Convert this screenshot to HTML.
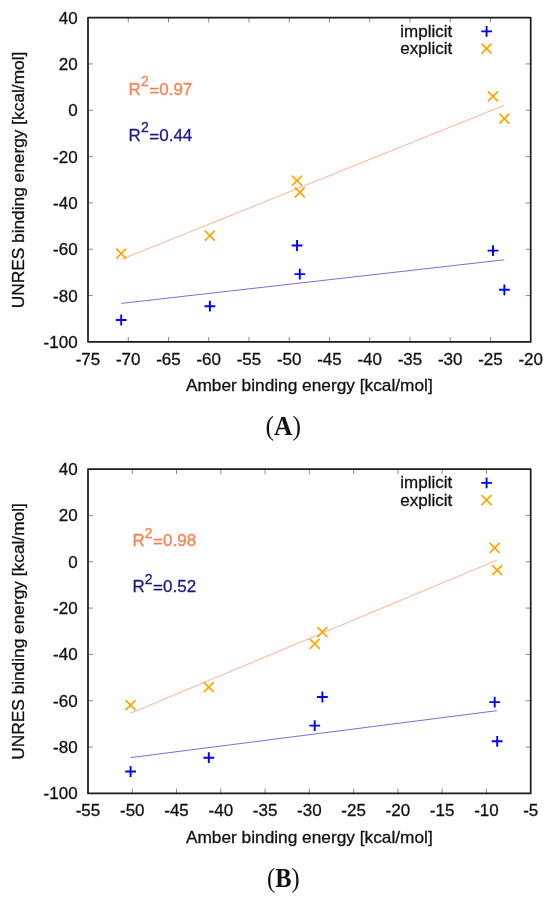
<!DOCTYPE html>
<html><head><meta charset="utf-8"><title>UNRES vs Amber binding energy</title>
<style>
html,body{margin:0;padding:0;background:#fff;}
body{width:550px;height:904px;overflow:hidden;}
svg{display:block;}
svg text{font-family:"Liberation Sans", Arial, Helvetica, sans-serif;font-size:17px;fill:#111;stroke:#111;stroke-width:0.3px;}
</style></head><body>
<svg width="550" height="904" viewBox="0 0 550 904">
<rect width="550" height="904" fill="#fff"/>
<path d="M128.25 341.9v-4.9M128.25 17.6v4.9M168.49 341.9v-4.9M168.49 17.6v4.9M208.74 341.9v-4.9M208.74 17.6v4.9M248.98 341.9v-4.9M248.98 17.6v4.9M289.23 341.9v-4.9M289.23 17.6v4.9M329.47 341.9v-4.9M329.47 17.6v4.9M369.72 341.9v-4.9M369.72 17.6v4.9M409.96 341.9v-4.9M409.96 17.6v4.9M450.21 341.9v-4.9M450.21 17.6v4.9M490.45 341.9v-4.9M490.45 17.6v4.9M88 63.93h4.9M530.7 63.93h-4.9M88 110.26h4.9M530.7 110.26h-4.9M88 156.59h4.9M530.7 156.59h-4.9M88 202.91h4.9M530.7 202.91h-4.9M88 249.24h4.9M530.7 249.24h-4.9M88 295.57h4.9M530.7 295.57h-4.9" stroke="#8a8a8a" stroke-width="1" fill="none"/>
<rect x="88" y="17.6" width="442.70000000000005" height="324.29999999999995" fill="none" stroke="#1a1a1a" stroke-linejoin="round" stroke-width="1.7"/>
<text x="77.6" y="23.60" text-anchor="end">40</text>
<text x="77.6" y="69.93" text-anchor="end">20</text>
<text x="77.6" y="116.26" text-anchor="end">0</text>
<text x="77.6" y="162.59" text-anchor="end">-20</text>
<text x="77.6" y="208.91" text-anchor="end">-40</text>
<text x="77.6" y="255.24" text-anchor="end">-60</text>
<text x="77.6" y="301.57" text-anchor="end">-80</text>
<text x="77.6" y="347.90" text-anchor="end">-100</text>
<text x="88.00" y="364.90" text-anchor="middle">-75</text>
<text x="128.25" y="364.90" text-anchor="middle">-70</text>
<text x="168.49" y="364.90" text-anchor="middle">-65</text>
<text x="208.74" y="364.90" text-anchor="middle">-60</text>
<text x="248.98" y="364.90" text-anchor="middle">-55</text>
<text x="289.23" y="364.90" text-anchor="middle">-50</text>
<text x="329.47" y="364.90" text-anchor="middle">-45</text>
<text x="369.72" y="364.90" text-anchor="middle">-40</text>
<text x="409.96" y="364.90" text-anchor="middle">-35</text>
<text x="450.21" y="364.90" text-anchor="middle">-30</text>
<text x="490.45" y="364.90" text-anchor="middle">-25</text>
<text x="530.70" y="364.90" text-anchor="middle">-20</text>
<text transform="translate(23.9 180.00) rotate(-90)" text-anchor="middle" textLength="256.7" lengthAdjust="spacingAndGlyphs">UNRES binding energy [kcal/mol]</text>
<text x="185.9" y="391.30" textLength="246.8" lengthAdjust="spacingAndGlyphs">Amber binding energy [kcal/mol]</text>
<line x1="121.3" y1="259.50" x2="504.2" y2="105.30" stroke="#ffb192" stroke-width="1"/>
<line x1="121.3" y1="303.40" x2="504.2" y2="259.80" stroke="#7a6fd4" stroke-width="1"/>
<path d="M115.80 320.00h10.8M121.20 314.60v10.8M204.50 306.20h10.8M209.90 300.80v10.8M291.65 245.50h10.8M297.05 240.10v10.8M294.40 274.10h10.8M299.80 268.70v10.8M487.60 250.60h10.8M493.00 245.20v10.8M499.00 289.80h10.8M504.40 284.40v10.8" stroke="#0000ff" stroke-width="1.9" fill="none"/>
<path d="M116.20 248.60l10.0 10.0M116.20 258.60l10.0 -10.0M204.90 230.60l10.0 10.0M204.90 240.60l10.0 -10.0M292.05 175.60l10.0 10.0M292.05 185.60l10.0 -10.0M294.80 187.30l10.0 10.0M294.80 197.30l10.0 -10.0M488.00 91.30l10.0 10.0M488.00 101.30l10.0 -10.0M499.40 113.60l10.0 10.0M499.40 123.60l10.0 -10.0" stroke="#ffa500" stroke-width="1.7" fill="none"/>
<text x="452.3" y="36.50" text-anchor="end">implicit</text>
<text x="452.3" y="54.10" text-anchor="end">explicit</text>
<path d="M481.20 31.40h10.8M486.60 26.00v10.8" stroke="#0000ff" stroke-width="1.9" fill="none"/>
<path d="M481.60 43.60l10.0 10.0M481.60 53.60l10.0 -10.0" stroke="#ffa500" stroke-width="1.7" fill="none"/>
<text x="128.60" y="94.60" style="fill:#ff7f50;stroke:#ff7f50">R<tspan font-size="14" dy="-8.4">2</tspan><tspan dx="0.6" dy="9.3">=</tspan><tspan dy="-0.9">0.97</tspan></text>
<text x="128.60" y="140.60" style="fill:#1a1a8a;stroke:#1a1a8a">R<tspan font-size="14" dy="-8.4">2</tspan><tspan dx="0.6" dy="9.3">=</tspan><tspan dy="-0.9">0.44</tspan></text>
<text x="283.3" y="435.00" text-anchor="middle" textLength="35.5" lengthAdjust="spacingAndGlyphs" style='font-family:"Liberation Serif", "Times New Roman", serif;font-size:26.5px;stroke:none'>(<tspan style="font-weight:bold">A</tspan>)</text>
<path d="M132.27 793.4v-4.9M132.27 469.1v4.9M176.54 793.4v-4.9M176.54 469.1v4.9M220.81 793.4v-4.9M220.81 469.1v4.9M265.08 793.4v-4.9M265.08 469.1v4.9M309.35 793.4v-4.9M309.35 469.1v4.9M353.62 793.4v-4.9M353.62 469.1v4.9M397.89 793.4v-4.9M397.89 469.1v4.9M442.16 793.4v-4.9M442.16 469.1v4.9M486.43 793.4v-4.9M486.43 469.1v4.9M88 515.43h4.9M530.7 515.43h-4.9M88 561.76h4.9M530.7 561.76h-4.9M88 608.09h4.9M530.7 608.09h-4.9M88 654.41h4.9M530.7 654.41h-4.9M88 700.74h4.9M530.7 700.74h-4.9M88 747.07h4.9M530.7 747.07h-4.9" stroke="#8a8a8a" stroke-width="1" fill="none"/>
<rect x="88" y="469.1" width="442.70000000000005" height="324.29999999999995" fill="none" stroke="#1a1a1a" stroke-linejoin="round" stroke-width="1.7"/>
<text x="77.6" y="475.10" text-anchor="end">40</text>
<text x="77.6" y="521.43" text-anchor="end">20</text>
<text x="77.6" y="567.76" text-anchor="end">0</text>
<text x="77.6" y="614.09" text-anchor="end">-20</text>
<text x="77.6" y="660.41" text-anchor="end">-40</text>
<text x="77.6" y="706.74" text-anchor="end">-60</text>
<text x="77.6" y="753.07" text-anchor="end">-80</text>
<text x="77.6" y="799.40" text-anchor="end">-100</text>
<text x="88.00" y="816.40" text-anchor="middle">-55</text>
<text x="132.27" y="816.40" text-anchor="middle">-50</text>
<text x="176.54" y="816.40" text-anchor="middle">-45</text>
<text x="220.81" y="816.40" text-anchor="middle">-40</text>
<text x="265.08" y="816.40" text-anchor="middle">-35</text>
<text x="309.35" y="816.40" text-anchor="middle">-30</text>
<text x="353.62" y="816.40" text-anchor="middle">-25</text>
<text x="397.89" y="816.40" text-anchor="middle">-20</text>
<text x="442.16" y="816.40" text-anchor="middle">-15</text>
<text x="486.43" y="816.40" text-anchor="middle">-10</text>
<text x="530.70" y="816.40" text-anchor="middle">-5</text>
<text transform="translate(23.9 631.50) rotate(-90)" text-anchor="middle" textLength="256.7" lengthAdjust="spacingAndGlyphs">UNRES binding energy [kcal/mol]</text>
<text x="185.9" y="842.80" textLength="246.8" lengthAdjust="spacingAndGlyphs">Amber binding energy [kcal/mol]</text>
<line x1="130.6" y1="713.20" x2="496.8" y2="560.20" stroke="#ffb192" stroke-width="1"/>
<line x1="130.6" y1="757.60" x2="496.8" y2="710.70" stroke="#7a6fd4" stroke-width="1"/>
<path d="M125.20 771.50h10.8M130.60 766.10v10.8M203.40 757.70h10.8M208.80 752.30v10.8M317.00 697.00h10.8M322.40 691.60v10.8M309.30 725.60h10.8M314.70 720.20v10.8M489.30 702.10h10.8M494.70 696.70v10.8M491.80 741.30h10.8M497.20 735.90v10.8" stroke="#0000ff" stroke-width="1.9" fill="none"/>
<path d="M125.60 700.10l10.0 10.0M125.60 710.10l10.0 -10.0M203.80 682.10l10.0 10.0M203.80 692.10l10.0 -10.0M317.40 627.10l10.0 10.0M317.40 637.10l10.0 -10.0M309.70 638.80l10.0 10.0M309.70 648.80l10.0 -10.0M489.70 542.80l10.0 10.0M489.70 552.80l10.0 -10.0M492.20 565.10l10.0 10.0M492.20 575.10l10.0 -10.0" stroke="#ffa500" stroke-width="1.7" fill="none"/>
<text x="452.3" y="488.00" text-anchor="end">implicit</text>
<text x="452.3" y="505.60" text-anchor="end">explicit</text>
<path d="M481.20 482.90h10.8M486.60 477.50v10.8" stroke="#0000ff" stroke-width="1.9" fill="none"/>
<path d="M481.60 495.10l10.0 10.0M481.60 505.10l10.0 -10.0" stroke="#ffa500" stroke-width="1.7" fill="none"/>
<text x="132.40" y="546.10" style="fill:#ff7f50;stroke:#ff7f50">R<tspan font-size="14" dy="-8.4">2</tspan><tspan dx="0.6" dy="9.3">=</tspan><tspan dy="-0.9">0.98</tspan></text>
<text x="132.40" y="592.10" style="fill:#1a1a8a;stroke:#1a1a8a">R<tspan font-size="14" dy="-8.4">2</tspan><tspan dx="0.6" dy="9.3">=</tspan><tspan dy="-0.9">0.52</tspan></text>
<text x="283.3" y="886.50" text-anchor="middle" textLength="32.5" lengthAdjust="spacingAndGlyphs" style='font-family:"Liberation Serif", "Times New Roman", serif;font-size:26.5px;stroke:none'>(<tspan style="font-weight:bold">B</tspan>)</text>
</svg>
</body></html>
